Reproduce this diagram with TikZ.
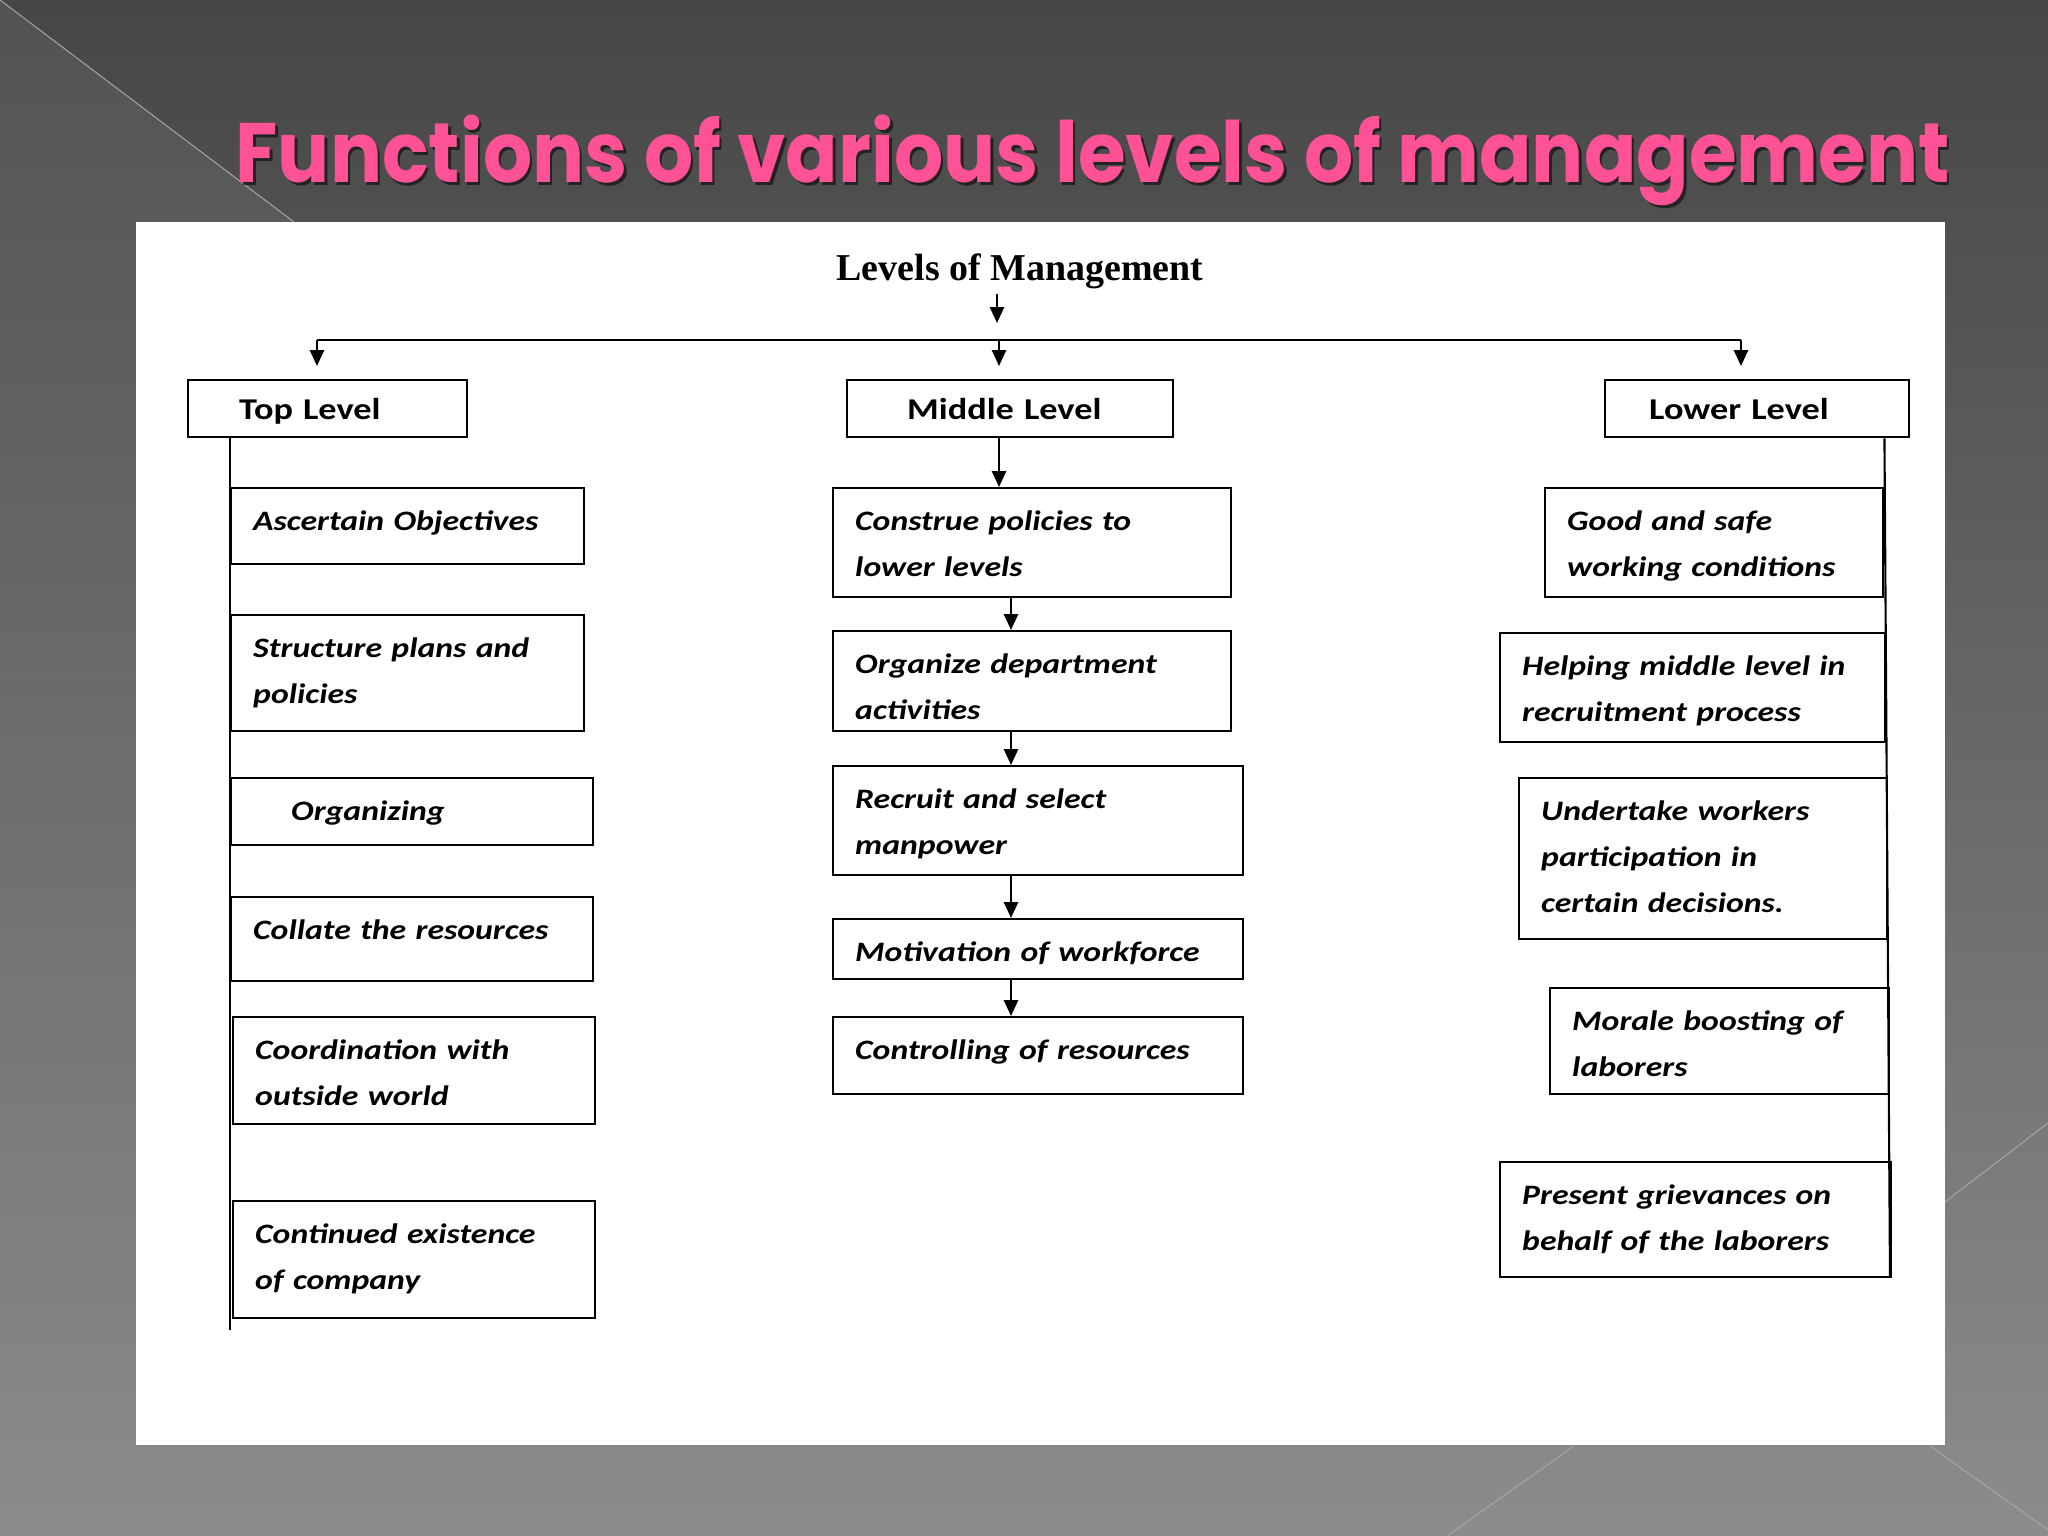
\documentclass[tikz,border=0pt]{standalone}
\usepackage{fontspec}
\usepackage{graphicx}
\usepackage{tikz}
\usetikzlibrary{arrows.meta,calc,fadings}

\newfontfamily\boxfam[FakeStretch=1.2]{Carlito}
\newfontfamily\headfam{Liberation Serif}
\newfontfamily\titlefam{Poppins}

\definecolor{titlepink}{RGB}{255,82,150}
\definecolor{bgtop}{RGB}{70,70,70}
\definecolor{bgbot}{RGB}{140,139,142}
\definecolor{streak}{RGB}{165,165,168}

\newcommand\itemfnt{\boxfam\bfseries\itshape\fontsize{8}{13.1}\selectfont}
\newcommand\lvlfnt{\boxfam\bfseries\fontsize{8.6}{10}\selectfont}
\newcommand\headfnt{\headfam\bfseries\fontsize{10.8}{13}\selectfont}
\newcommand\titlefnt{\titlefam\bfseries\fontsize{24}{28}\selectfont}

\begin{document}
\begin{tikzpicture}[
    item/.style={draw, line width=0.7pt, anchor=north west,
                 align=left, inner xsep=0.22cm, inner ysep=0pt,
                 text height=0.42cm, font=\itemfnt},
    lvl/.style={draw, line width=0.7pt, anchor=north west,
                align=left, inner sep=0pt,
                text height=0.39cm, text depth=0.18cm, font=\lvlfnt},
    arr/.style={-{Triangle[width=4pt,length=4.5pt]}, line width=0.6pt},
    rail/.style={line width=0.6pt}
]
\useasboundingbox (0,0) rectangle (20.48,-15.36);

% slide background
\shade[top color=bgtop, bottom color=bgbot] (0,0) rectangle (20.48,-15.36);
\fill[white, opacity=0.07, path fading=south]
    (0,0) -- (2.94,-2.22) -- (1.36,-2.22) -- (1.36,-14.45) -- (0,-14.45) -- cycle;
\draw[streak, line width=0.3pt] (0,0) -- (2.94,-2.22);
\draw[streak, line width=0.3pt] (20.48,-11.23) -- (19.45,-12.02);
\draw[streak, line width=0.3pt] (15.74,-14.46) -- (14.47,-15.36);
\draw[streak, line width=0.3pt] (19.30,-14.46) -- (20.48,-15.30);
\fill[white] (1.36,-2.22) rectangle (19.45,-14.45);

% title
\node[anchor=base west, inner sep=0pt, text=black, opacity=0.55, font=\titlefnt]
    (shadow) at (2.375,-1.86) {\resizebox{17.14cm}{\height}{Functions of various levels of management}};
\node[anchor=base west, inner sep=0pt, text=titlepink, font=\titlefnt]
    (title) at (2.35,-1.83) {\resizebox{17.14cm}{\height}{Functions of various levels of management}};

% head and the three levels
\node[anchor=base, inner sep=1pt, font=\headfnt] (head) at (10.20,-2.81) {Levels of Management};

\node[lvl, text width=2.79cm] (top) at (1.87,-3.79) {\hspace*{0.51cm}Top Level};
\node[lvl, text width=3.26cm] (mid) at (8.46,-3.79) {\hspace*{0.60cm}Middle Level};
\node[lvl, text width=3.04cm] (low) at (16.04,-3.79) {\hspace*{0.44cm}Lower Level};

\coordinate (hub) at (9.97,-3.23);
\coordinate (barL) at (3.17,-3.40);
\coordinate (barM) at (9.99,-3.40);
\coordinate (barR) at (17.41,-3.40);

\draw[arr] (hub |- head.south) -- (hub);
\draw[rail] (barL) -- (barR);
\draw[arr, shorten >=0.13cm] (barL) -- (barL |- top.north);
\draw[arr, shorten >=0.13cm] (barM) -- (barM |- mid.north);
\draw[arr, shorten >=0.13cm] (barR) -- (barR |- low.north);

% duties of each level
\foreach \nm/\xa/\ya/\xb/\yb/\txt in {
    t1/2.30/-4.87/5.83/-5.63/{Ascertain Objectives},
    t2/2.30/-6.14/5.83/-7.30/{Structure plans and\\policies},
    t3/2.30/-7.77/5.92/-8.44/{\hspace*{0.38cm}Organizing},
    t4/2.30/-8.96/5.92/-9.80/{Collate the resources},
    t5/2.32/-10.16/5.94/-11.23/{Coordination with\\outside world},
    t6/2.32/-12.00/5.94/-13.17/{Continued existence\\of company},
    m1/8.32/-4.87/12.30/-5.96/{Construe policies to\\lower levels},
    m2/8.32/-6.30/12.30/-7.30/{Organize department\\activities},
    m3/8.32/-7.65/12.42/-8.74/{Recruit and select\\manpower},
    m4/8.32/-9.18/12.42/-9.78/{Motivation of workforce},
    m5/8.32/-10.16/12.42/-10.93/{Controlling of resources},
    l1/15.44/-4.87/18.82/-5.96/{Good and safe\\working conditions},
    l2/14.99/-6.32/18.84/-7.41/{Helping middle level in\\recruitment process},
    l3/15.18/-7.77/18.86/-9.38/{Undertake workers\\participation in\\certain decisions.},
    l4/15.49/-9.87/18.88/-10.93/{Morale boosting of\\laborers},
    l5/14.99/-11.61/18.90/-12.76/{Present grievances on\\behalf of the laborers}
}{
    \pgfmathsetmacro\tw{\xb-\xa-0.44}
    \pgfmathsetmacro\td{\ya-\yb-0.42}
    \node[item, text width=\tw cm, text depth=\td cm] (\nm) at (\xa,\ya) {\txt};
}

% rails and middle chain
\coordinate (tailT) at (2.30,-13.30);
\coordinate (tailL) at (18.90,-12.76);
\coordinate (spine) at (10.11,0);

\draw[rail] (tailT |- top.south) -- (tailT);
\draw[rail] (low.south -| l1.east) -- (tailL);
\draw[arr] (barM |- mid.south) -- (barM |- m1.north);
\foreach \a/\b in {m1/m2, m2/m3, m3/m4, m4/m5}
    \draw[arr] (spine |- \a.south) -- (spine |- \b.north);
\end{tikzpicture}
\end{document}
